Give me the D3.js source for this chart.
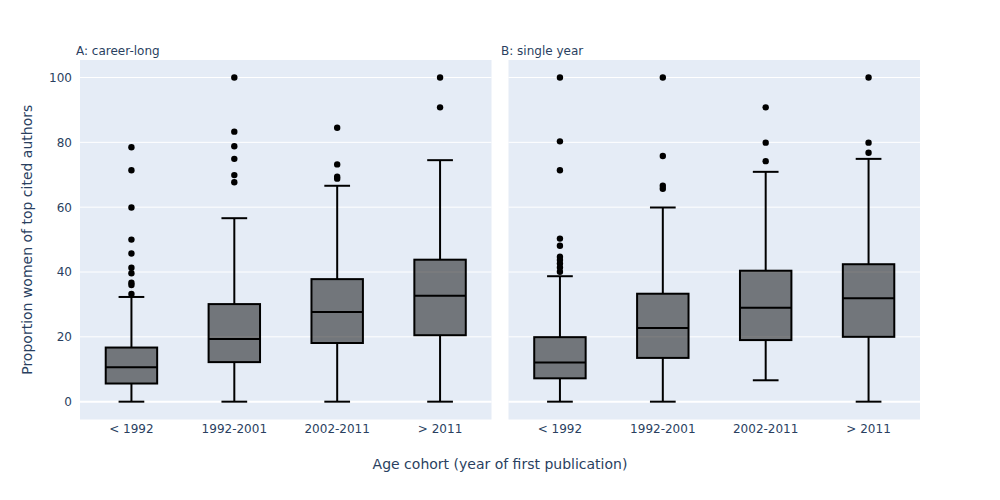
<!DOCTYPE html>
<html>
<head>
<meta charset="utf-8">
<script src="https://cdn.jsdelivr.net/npm/d3@7"></script>
<style>
  body { margin: 0; background: #fff; }
  text { font-family: "DejaVu Sans", Verdana, sans-serif; fill: #2a3f5f; }
</style>
</head>
<body>
<svg id="chart" width="1000" height="500"></svg>
<script>
"use strict";

// cohorts on the x axis
const cohorts = ["< 1992", "1992-2001", "2002-2011", "> 2011"];
const yTicks = [0, 20, 40, 60, 80, 100];

// A: career-long — [lowerFence, q1, median, q3, upperFence] per cohort
const careerStats = [
	[0, 5.6, 10.6, 16.7, 32.3],
	[0, 12.2, 19.3, 30.1, 56.6],
	[0, 18.1, 27.7, 37.8, 66.6],
	[0, 20.5, 32.7, 43.8, 74.5]
];
const careerOutliers = [
	[78.5, 71.4, 59.9, 50, 45.7, 41.3, 39.6, 36.7, 36, 33.2],
	[100, 83.3, 78.8, 74.9, 69.9, 67.7],
	[84.5, 73.2, 69.4, 68.8],
	[100, 90.8]
];

// B: single year
const singleStats = [
	[0, 7.2, 12.1, 19.9, 38.7],
	[0, 13.5, 22.7, 33.3, 59.9],
	[6.6, 19.0, 29.0, 40.4, 70.9],
	[0, 20.0, 31.9, 42.4, 74.9]
];
const singleOutliers = [
	[100, 80.3, 71.4, 50.3, 48.1, 44.7, 43.7, 42.6, 41.4, 40.1],
	[100, 75.8, 66.6, 65.7],
	[90.8, 79.9, 74.2],
	[100, 79.9, 76.8]
];

const panels = [
	{title: "A: career-long", stats: careerStats, outliers: careerOutliers, x0: 80, x1: 491.5, tx: 76},
	{title: "B: single year", stats: singleStats, outliers: singleOutliers, x0: 508.5, x1: 920, tx: 501}
];

const svg = d3.select("#chart");
const plotTop = 60, plotBottom = 419.5;

const yscale = d3.scaleLinear()
	.domain([-5.5, 105.4])
	.range([plotBottom, plotTop]);

panels.forEach((p, pi) => {
	let g = svg.append("g");
	let xscale = d3.scaleBand()
		.domain(cohorts)
		.range([p.x0, p.x1]);
	let band = xscale.bandwidth();
	let boxW = band * 0.5;
	let capW = boxW * 0.5;

	g.append("rect")
		.attr("x", p.x0)
		.attr("y", plotTop)
		.attr("width", p.x1 - p.x0)
		.attr("height", plotBottom - plotTop)
		.attr("fill", "#E5ECF6");

	// grid
	g.selectAll(".grid")
		.data(yTicks)
		.enter()
		.append("line")
		.attr("x1", p.x0)
		.attr("x2", p.x1)
		.attr("y1", d => yscale(d))
		.attr("y2", d => yscale(d))
		.attr("stroke", "#fff")
		.attr("stroke-width", d => d == 0 ? 2 : 1);

	// x ticks
	let xaxis = d3.axisBottom(xscale).tickSize(0).tickPadding(5);
	g.append("g")
		.attr("transform", `translate(0, ${plotBottom})`)
		.call(xaxis)
		.call(a => a.select(".domain").remove())
		.selectAll("text")
		.attr("font-size", 12)
		.attr("font-family", null)
		.style("fill", "#2a3f5f");

	// y ticks only on the first panel
	if (pi == 0) {
		let yaxis = d3.axisLeft(yscale).tickValues(yTicks).tickSize(0).tickPadding(8);
		g.append("g")
			.attr("transform", `translate(${p.x0}, 0)`)
			.call(yaxis)
			.call(a => a.select(".domain").remove())
			.selectAll("text")
			.attr("font-size", 12)
			.attr("font-family", null)
			.style("fill", "#2a3f5f");
	}

	g.append("text")
		.attr("x", p.tx)
		.attr("y", 55)
		.attr("font-size", 12)
		.text(p.title);

	let boxes = g.selectAll(".box")
		.data(p.stats)
		.enter()
		.append("g")
		.attr("transform", (d, i) => `translate(${xscale(cohorts[i]) + band / 2}, 0)`);

	// whiskers
	boxes.append("line")
		.attr("y1", d => yscale(d[0]))
		.attr("y2", d => yscale(d[1]))
		.attr("stroke", "#000").attr("stroke-width", 2);
	boxes.append("line")
		.attr("y1", d => yscale(d[3]))
		.attr("y2", d => yscale(d[4]))
		.attr("stroke", "#000").attr("stroke-width", 2);
	[0, 4].forEach(k => {
		boxes.append("line")
			.attr("x1", -capW / 2)
			.attr("x2", capW / 2)
			.attr("y1", d => yscale(d[k]))
			.attr("y2", d => yscale(d[k]))
			.attr("stroke", "#000").attr("stroke-width", 2);
	});

	boxes.append("rect")
		.attr("x", -boxW / 2)
		.attr("width", boxW)
		.attr("y", d => yscale(d[3]))
		.attr("height", d => yscale(d[1]) - yscale(d[3]))
		.attr("fill", "rgba(0,0,0,0.5)")
		.attr("stroke", "#000")
		.attr("stroke-width", 2);
	boxes.append("line")
		.attr("x1", -boxW / 2)
		.attr("x2", boxW / 2)
		.attr("y1", d => yscale(d[2]))
		.attr("y2", d => yscale(d[2]))
		.attr("stroke", "#000").attr("stroke-width", 2);

	// outliers
	boxes.each(function(d, i) {
		d3.select(this)
			.selectAll("circle")
			.data(p.outliers[i])
			.enter()
			.append("circle")
			.attr("cx", 0)
			.attr("cy", v => yscale(v))
			.attr("r", 3.2)
			.attr("fill", "#000");
	});
});

svg.append("text")
	.attr("x", 500)
	.attr("y", 469)
	.attr("text-anchor", "middle")
	.attr("font-size", 14)
	.text("Age cohort (year of first publication)");

svg.append("text")
	.attr("transform", `translate(32, ${(plotTop + plotBottom) / 2}) rotate(-90)`)
	.attr("text-anchor", "middle")
	.attr("font-size", 14)
	.text("Proportion women of top cited authors");
</script>
</body>
</html>
